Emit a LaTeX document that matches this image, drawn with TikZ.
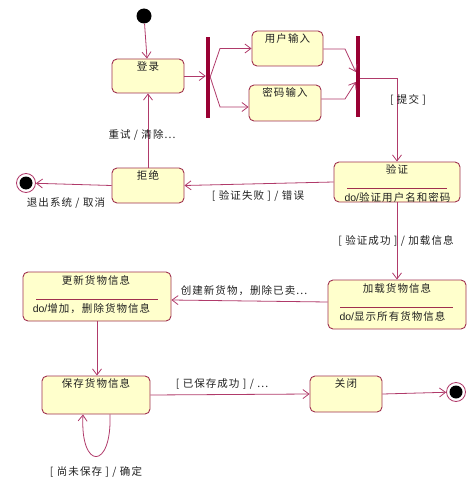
\documentclass[tikz,border=0pt]{standalone}
\usepackage{fontspec}
\setmainfont{Noto Sans CJK SC}
\newfontfamily\lsfont[LetterSpace=10]{Noto Sans CJK SC}
\newfontfamily\latfont{Liberation Sans}
\usetikzlibrary{arrows.meta}
\definecolor{boxfill}{HTML}{FFFFCC}
\definecolor{boxline}{HTML}{A0304F}
\definecolor{conncol}{HTML}{B03A6A}
\definecolor{barcol}{HTML}{990033}
\definecolor{txt}{HTML}{202020}
\newcommand{\dopre}{{\latfont do/}}
\begin{document}
\begin{tikzpicture}[x=1pt,y=-1pt,
  stbox/.style={draw=boxline, fill=boxfill, rounded corners=5pt, line width=0.9pt, inner sep=0pt},
  ttl/.style={font=\lsfont\fontsize{10.5}{12}\selectfont, text=txt, anchor=north, inner sep=0pt},
  dotext/.style={font=\lsfont\fontsize{10.5}{12}\selectfont, text=txt, inner sep=0pt},
  lab/.style={font=\lsfont\fontsize{10.5}{12}\selectfont, text=txt, inner sep=0pt},
  arr/.style={draw=conncol, line width=0.8pt, -{Straight Barb[length=6pt,width=9pt]}},
  sepline/.style={draw=boxline, line width=0.8pt},
  barnode/.style={fill=barcol, draw=none, minimum width=4pt, minimum height=81pt, inner sep=0pt},
  finalo/.style={circle, draw=conncol, fill=white, line width=0.8pt, minimum size=19pt, inner sep=0pt},
  finali/.style={circle, fill=black, minimum size=13pt, inner sep=0pt},
  initn/.style={circle, fill=black, minimum size=15pt, inner sep=0pt}
]
\useasboundingbox (0,0) rectangle (474,484);

% initial and final states
\node[initn] (init) at (144,16) {};
\node[finalo] (fin1) at (26,183) {};
\node[finali] (fin1c) at (fin1) {};
\node[finalo] (fin2) at (456,392) {};
\node[finali] (fin2c) at (fin2) {};

% fork / join bars
\node[barnode] (fork) at (208,77.5) {};
\node[barnode] (join) at (358,77) {};

% states
\node[stbox, minimum width=72pt, minimum height=34pt] (login) at (148,76) {};
\node[ttl] (loginT) at ([yshift=-3pt]login.north) {登录};

\node[stbox, minimum width=71pt, minimum height=35pt] (user) at (287.5,48.5) {};
\node[ttl] (userT) at ([yshift=-3pt]user.north) {用户输入};

\node[stbox, minimum width=72pt, minimum height=36pt] (pwd) at (285,103) {};
\node[ttl] (pwdT) at ([yshift=-3pt]pwd.north) {密码输入};

\node[stbox, minimum width=126pt, minimum height=40pt] (verify) at (397,182) {};
\node[ttl] (verifyT) at ([yshift=-3pt]verify.north) {验证};
\draw[sepline] (347,188) -- (447,188);
\node[dotext] (verifyD) at (397.5,197) {\dopre 验证用户名和密码};

\node[stbox, minimum width=72pt, minimum height=35pt] (reject) at (148,185.5) {};
\node[ttl] (rejectT) at ([yshift=-3pt]reject.north) {拒绝};

\node[stbox, minimum width=138pt, minimum height=49pt] (load) at (397,304.5) {};
\node[ttl] (loadT) at ([yshift=-4pt]load.north) {加载货物信息};
\draw[sepline] (340,307) -- (453,307);
\node[dotext] (loadD) at (392.5,316.5) {\dopre 显示所有货物信息};

\node[stbox, minimum width=148pt, minimum height=49pt] (update) at (97,296.5) {};
\node[ttl] (updateT) at ([yshift=-4pt,xshift=-1pt]update.north) {更新货物信息};
\draw[sepline] (36,299) -- (158,299);
\node[dotext] (updateD) at (91.5,308.5) {\dopre 增加，删除货物信息};

\node[stbox, minimum width=108pt, minimum height=38pt] (save) at (96,395) {};
\node[ttl] (saveT) at ([yshift=-3pt]save.north) {保存货物信息};

\node[stbox, minimum width=72pt, minimum height=36pt] (close) at (346,394) {};
\node[ttl] (closeT) at ([yshift=-3pt]close.north) {关闭};

% waypoints
\coordinate (fu) at (220,48.5);
\coordinate (fp) at (220,107);
\coordinate (ju) at (345,49);
\coordinate (jp) at (345,99);
\coordinate (jo) at (397,78);

% connectors
\draw[arr] (init) -- ([xshift=-1pt]login.north);
\draw[arr] (login.east) -- (login.east -| fork.west);
\draw[arr] (fork.east |- 0,77) -- (fu) -- (user.west);
\draw[arr] (fork.east |- 0,77) -- (fp) -- (pwd.west |- fp);
\draw[arr] (user.east |- ju) -- (ju) -- (join.west |- 0,72);
\draw[arr] (pwd.east |- jp) -- (jp) -- (join.west |- 0,82);
\draw[arr] (join.east |- jo) -- (jo) -- (verify.north);
\draw[arr] (verify.west) -- (reject.east);
\draw[arr] (reject.north) -- (login.south);
\draw[arr] (reject.west) -- (fin1);
\draw[arr] (verify.south) -- (load.north);
\draw[arr] (load.west |- 0,302) -- (update.east |- 0,300);
\draw[arr] (update.south) -- (save.north -| update.south);
\draw[arr] ([xshift=14pt]save.south) .. controls ([xshift=16pt,yshift=-56pt]save.south) and ([xshift=-16pt,yshift=-56pt]save.south) .. ([xshift=-13pt]save.south);
\draw[arr] (save.east) -- (close.west);
\draw[arr] (close.east) -- (fin2);

% labels
\node[lab] (l1) at (408,100) {[ 提交 ]};
\node[lab] (l2) at (258,196) {[ 验证失败 ] / 错误};
\node[lab] (l3) at (142,135) {重试 / 清除...};
\node[lab] (l4) at (66,203) {退出系统 / 取消};
\node[lab] (l5) at (396,241) {[ 验证成功 ] / 加载信息};
\node[lab] (l6) at (244,291) {创建新货物，删除已卖...};
\node[lab] (l7) at (222,384) {[ 已保存成功 ] / ...};
\node[lab] (l8) at (96,472) {[ 尚未保存 ] / 确定};
\end{tikzpicture}
\end{document}
